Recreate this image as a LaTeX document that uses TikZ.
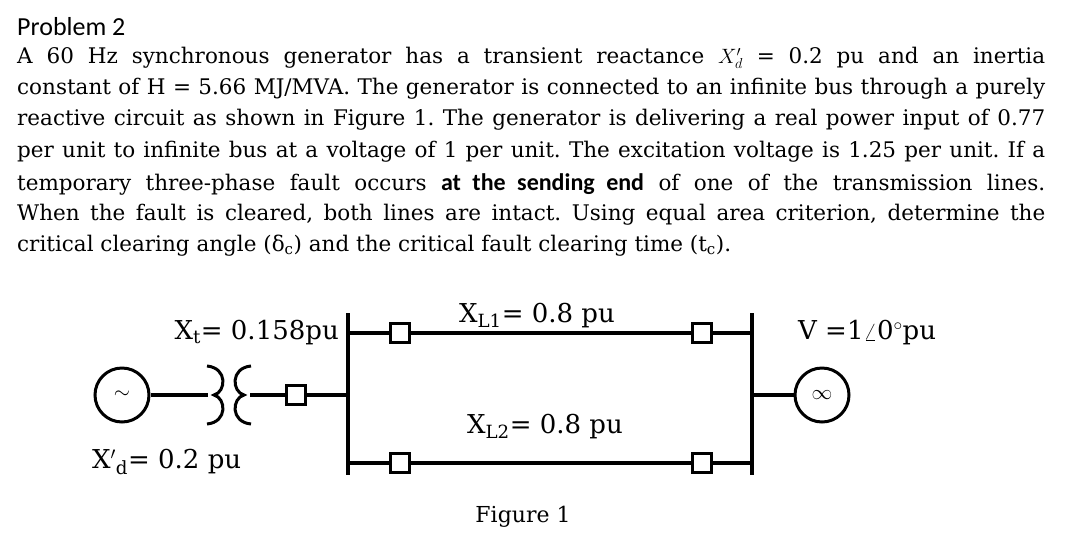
\documentclass[tikz,border=0pt]{standalone}
\usepackage{fontspec}
\setmainfont{DejaVu Serif}
\newfontfamily\sansf{Carlito}
\begin{document}
\frenchspacing
\begin{tikzpicture}[x=1pt,y=-1pt,
  txt/.style={inner sep=0pt,font=\fontsize{21.5}{31}\selectfont},
  lbl/.style={inner sep=0pt,font=\fontsize{26}{30}\selectfont},
  brk/.style={draw,line width=3pt,minimum size=19pt,inner sep=0pt},
  wire/.style={line width=4pt},
  mach/.style={draw,circle,line width=3pt,minimum size=54pt,inner sep=0pt}]
\useasboundingbox (0,0) rectangle (1078,544);
\node[anchor=west,inner sep=0pt,font=\sansf\fontsize{26}{30}\selectfont] (ttl) at (17,27) {Problem 2};
\node[txt,anchor=west] (l1) at (17,58) {\makebox[1028pt][s]{A 60 Hz synchronous generator has a transient reactance \(X'_d\) = 0.2 pu and an inertia}};
\node[txt,anchor=west] (l2) at (17,89) {\makebox[1028pt][s]{constant of H = 5.66 MJ/MVA. The generator is connected to an infinite bus through a purely}};
\node[txt,anchor=west] (l3) at (17,120) {\makebox[1028pt][s]{reactive circuit as shown in Figure 1. The generator is delivering a real power input of 0.77}};
\node[txt,anchor=west] (l4) at (17,152) {\makebox[1028pt][s]{per unit to infinite bus at a voltage of 1 per unit. The excitation voltage is 1.25 per unit. If a}};
\node[txt,anchor=west] (l5) at (17,184) {\makebox[1028pt][s]{temporary three-phase fault occurs {\sansf\bfseries\fontsize{24}{31}\selectfont at the sending end} of one of the transmission lines.}};
\node[txt,anchor=west] (l6) at (17,215) {\makebox[1028pt][s]{When the fault is cleared, both lines are intact. Using equal area criterion, determine the}};
\node[txt,anchor=west] (l7) at (17,246) {critical clearing angle (δ\textsubscript{c}) and the critical fault clearing time (t\textsubscript{c}).};

% generator side
\node[mach,font=\huge] (gen) at (122,395) {$\sim$};
\coordinate (tl) at (208,395);
\coordinate (tr) at (250,395);
\draw[wire] (gen.east) -- (tl);
\draw[line width=3pt] (207,366) .. controls (228,368) and (226,392) .. (214,395) .. controls (226,398) and (228,422) .. (207,424);
\draw[line width=3pt] (251,366) .. controls (230,368) and (232,392) .. (244,395) .. controls (232,398) and (230,422) .. (251,424);
\node[brk] (b0) at (296,395) {};
\coordinate (busL1) at (348,313);
\coordinate (busL2) at (348,475);
\coordinate (busR1) at (752,313);
\coordinate (busR2) at (752,475);
\draw[wire] (busL1) -- (busL2);
\draw[wire] (busR1) -- (busR2);
\draw[wire] (tr) -- (b0.west);
\draw[wire] (b0.east) -- (348,395);
\node[brk] (b1) at (400,333) {};
\node[brk] (b2) at (702,333) {};
\node[brk] (b3) at (400,463) {};
\node[brk] (b4) at (702,463) {};
\draw[wire] (348,333) -- (b1.west);
\draw[wire] (b1.east) -- (b2.west);
\draw[wire] (b2.east) -- (752,333);
\draw[wire] (348,463) -- (b3.west);
\draw[wire] (b3.east) -- (b4.west);
\draw[wire] (b4.east) -- (752,463);
\node[mach,font=\huge] (inf) at (822,395) {$\infty$};
\draw[wire] (752,395) -- (inf.west);

\node[lbl,anchor=east] (xt) at (339,333) {X\textsubscript{t}= 0.158pu};
\node[lbl,anchor=west] (xd) at (92,462) {X$'$\textsubscript{d}= 0.2 pu};
\node[lbl] (xl1) at (537,316) {X\textsubscript{L1}= 0.8 pu};
\node[lbl] (xl2) at (545,427) {X\textsubscript{L2}= 0.8 pu};
\node[lbl,anchor=west] (vv) at (798,333) {V =1$\angle$0$^\circ$pu};
\node[inner sep=0pt,font=\fontsize{22}{28}\selectfont] (fig) at (523,517) {Figure 1};
\end{tikzpicture}
\end{document}
